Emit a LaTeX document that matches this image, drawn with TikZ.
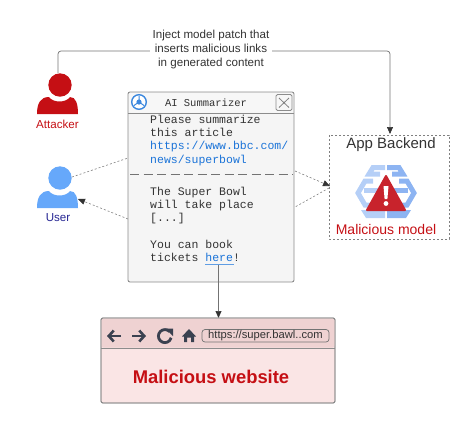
\documentclass[tikz,border=0pt]{standalone}
\usepackage{fontspec}
\setmainfont{Liberation Sans}
\newfontfamily\monof{Liberation Mono}
\usetikzlibrary{arrows.meta}
\definecolor{linkb}{HTML}{1A73D8}
\definecolor{redd}{HTML}{C50F14}
\definecolor{warnr}{HTML}{C8232C}
\definecolor{userb}{HTML}{66A8FA}
\definecolor{txt}{HTML}{333333}
\definecolor{brainb}{HTML}{8DB4F2}
\definecolor{brainl}{HTML}{B5CFF7}
\definecolor{navc}{HTML}{3A4150}
\definecolor{tbar}{HTML}{EFD2D2}
\definecolor{wbody}{HTML}{FAE5E5}
\newcommand{\brainhalf}[1]{%
 \draw[#1,line width=5pt,miter limit=10] (-1,167.5) -- (-13,167.5) -- (-17,174) -- (-6,174);
 \draw[#1,line width=5pt,miter limit=10] (-13,181) -- (-21,181) -- (-28,193) -- (-21,205) -- (-1,205);
 \draw[#1,line width=5pt] (-22,190) -- (-1,190);
 \fill[#1] (-25,210) -- (-1,210) -- (-1,218) -- (-20,218) -- cycle;
}
\tikzset{
 x=1pt,y=-1pt,
 conn/.style={draw=black!55,line width=0.7pt},
 arrowed/.style={-{Triangle[length=7pt,width=6pt,color=black!80]}},
 dots/.style={draw=black!50,line width=0.6pt,dash pattern=on 2pt off 2pt},
 mono/.style={font=\monof\fontsize{11.5}{13.1}\selectfont,text=txt,align=left,anchor=north west,inner sep=0pt},
 lab/.style={inner sep=0pt},
 panel/.style={draw=black!45,line width=0.9pt,rounded corners=2pt},
 navicon/.style={draw=navc,line width=2.6pt},
}
\begin{document}
\begin{tikzpicture}
\useasboundingbox (0,0) rectangle (474,424);
% coordinates
\coordinate (attop) at (58,73);
\coordinate (ubuA) at (72,177);
\coordinate (ubuB) at (78,199);
\coordinate (boxUL) at (128,158);
\coordinate (boxLL) at (128,219);
\coordinate (boxUR) at (295,171);
\coordinate (boxLR) at (295,207);
\coordinate (beL) at (330,186);
\coordinate (beLb) at (329,188);
\coordinate (beT) at (390,134);
\coordinate (here) at (218.5,265);
\coordinate (brT) at (218.5,318);
% attacker
\fill[redd] (60,85) circle (11.7);
\fill[redd] (37,114) .. controls (37,104) and (40,97) .. (49,97) .. controls (53,103) and (66,103) .. (70,97) .. controls (76,97) and (78,104) .. (78,114) -- cycle;
\node[lab,text=redd,font=\fontsize{11.6}{13}\selectfont] (attacker) at (57.5,124.5) {Attacker};
% user
\fill[userb] (60,178) circle (11.7);
\fill[userb] (37,208) .. controls (37,198) and (40,191) .. (49,191) .. controls (53,197) and (66,197) .. (70,191) .. controls (76,191) and (78,198) .. (78,208) -- cycle;
\node[lab,text=blue!50!black!85,font=\fontsize{11.6}{13}\selectfont] (user) at (58,218) {User};
% connectors
\draw[conn,arrowed,rounded corners=3pt] (attop) -- (58,51) -- (390,51) -- (beT);
\node[lab,fill=white,inner xsep=3pt,inner ysep=1pt,align=center,text=txt,font=\fontsize{11.6}{14}\selectfont] (inject) at (211,49) {Inject model patch that\\inserts malicious links\\in generated content};
\draw[dots] (ubuA) -- (boxUL);
\draw[dots,-{Triangle[length=7pt,width=6pt,color=black!80]}] (boxLL) -- (ubuB);
\draw[dots,-{Triangle[length=7pt,width=6pt,color=black!80]}] (boxUR) -- (beL);
\draw[dots] (beLb) -- (boxLR);
% summarizer
\draw[panel,fill=black!4] (128,92) rectangle (294,282);
\fill[black!3,rounded corners=2pt] (129,93) rectangle (293,112.5);
\draw[black!45,line width=0.9pt] (128,113) -- (294,113);
\draw[linkb!85,line width=1.4pt,fill=white] (139,102) circle (7.3);
\fill[linkb!85] (139,102) circle (2.6);
\draw[linkb!85,line width=1pt] (139,102) -- (139,96) (139,102) -- (134,105.5) (139,102) -- (144,105.5);
\node[lab,font=\monof\fontsize{10.5}{12}\selectfont,text=txt] (title) at (206,102.5) {AI Summarizer};
\draw[black!45,line width=0.8pt,rounded corners=1.5pt] (276,94.5) rectangle (292,110.5);
\draw[black!50,line width=0.8pt] (279,98) -- (289,107.5) (289,98) -- (279,107.5);
\node[mono] (req) at (150,115.2) {Please summarize\\this article\\\textcolor{linkb}{https://www.bbc.com/}\\\textcolor{linkb}{news/superbowl}};
\draw[black!55,line width=0.8pt,dash pattern=on 9pt off 4.5pt] (130,174) -- (293,174);
\node[mono] (resp) at (150,187.2) {The Super Bowl\\will take place\\{[...]}\\[13.1pt]You can book\\tickets \textcolor{linkb}{here}!};
\draw[linkb!70,line width=0.5pt] (205,264.5) -- (234,264.5);
\draw[conn,arrowed] (here) -- (brT);
% backend
\draw[dots] (329,135) rectangle (449,239);
\node[lab,text=txt,font=\fontsize{15}{17}\selectfont] (backend) at (391,145) {App Backend};
% brain
\begin{scope}[shift={(386,0)}]
\brainhalf{brainl}
\end{scope}
\begin{scope}[shift={(386,0)},xscale=-1]
\brainhalf{brainb}
\end{scope}
\fill[warnr,draw=warnr,line width=2pt,line join=round] (386,176) -- (405,210) -- (367,210) -- cycle;
\fill[white] (383.5,186) -- (388.5,186) -- (387.4,199) -- (384.6,199) -- cycle;
\fill[white] (386,203.5) circle (2.4);
\node[lab,text=redd,font=\fontsize{14}{16}\selectfont] (malmodel) at (386,229) {Malicious model};
% browser
\draw[panel,fill=wbody] (101,318) rectangle (335,403);
\fill[tbar,rounded corners=2pt] (101.5,318.5) rectangle (334.5,347.5);
\draw[black!45,line width=0.9pt] (101,348) -- (335,348);
\draw[black!45,line width=0.9pt,rounded corners=2pt] (101,318) rectangle (335,403);
\draw[navicon,-{Straight Barb[length=5pt,width=11pt]}] (121,336) -- (107,336);
\draw[navicon,-{Straight Barb[length=5pt,width=11pt]}] (132,336) -- (146,336);
\draw[navicon,line width=2.8pt] (169.5,331.5) arc[start angle=-45,end angle=-345,radius=6.5];
\fill[navc] (165.5,328.5) -- (173,328.5) -- (173,336) -- cycle;
\fill[navc] (189,329) -- (196,336.5) -- (194,336.5) -- (194,342) -- (191,342) -- (191,337.5) -- (187,337.5) -- (187,342) -- (184,342) -- (184,336.5) -- (182,336.5) -- cycle;
\draw[black!55,line width=0.7pt,rounded corners=3pt] (202,329.5) rectangle (329,342);
\node[lab,text=txt,font=\fontsize{11.2}{13}\selectfont] (url) at (265.5,335.5) {https://super.bawl..com};
\node[lab,text=redd,font=\bfseries\fontsize{18.4}{20}\selectfont] (mal) at (211,377) {Malicious website};
\end{tikzpicture}
\end{document}
